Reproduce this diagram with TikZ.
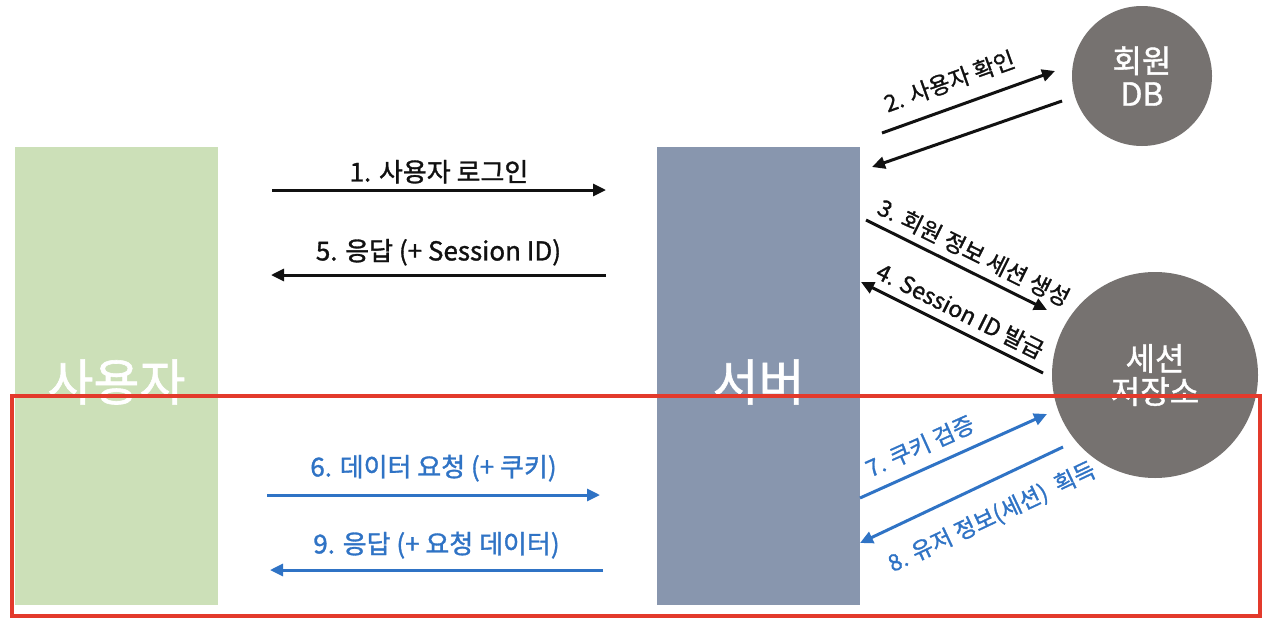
\documentclass[tikz,border=0pt]{standalone}
\usepackage{fontspec}
\setmainfont{Noto Sans CJK KR}
\newfontfamily\lblfont[FakeBold=1.2]{Noto Sans CJK KR}
\usetikzlibrary{arrows.meta}
\definecolor{usergreen}{HTML}{CCE0B8}
\definecolor{serverblue}{HTML}{8896AE}
\definecolor{circgray}{HTML}{767270}
\definecolor{flowblue}{HTML}{2F73C5}
\definecolor{redbox}{HTML}{E33A2C}
\definecolor{inkblack}{HTML}{111111}
\begin{document}
\begin{tikzpicture}[x=1pt,y=-1pt,
  actor/.style={rectangle, minimum width=203pt, minimum height=458pt, inner sep=0pt},
  bigtext/.style={text=white, font=\lblfont\fontsize{50}{56}\selectfont},
  store/.style={circle, fill=circgray, inner sep=0pt, text=white, align=center,
    font=\lblfont\fontsize{32}{38}\selectfont},
  blackflow/.style={draw=inkblack, line width=3pt, -{Triangle[length=13pt,width=12pt]}},
  blueflow/.style={draw=flowblue, line width=3pt, -{Triangle[length=13pt,width=12pt]}},
  hlabel/.style={font=\lblfont\fontsize{26}{30}\selectfont, inner sep=1pt},
  slabel/.style={font=\lblfont\fontsize{23}{26}\selectfont, inner sep=1pt, sloped},
]
\useasboundingbox (0,0) rectangle (1280,640);
\fill[white] (0,0) rectangle (1280,640);

% actors
\node[actor, fill=usergreen] (user) at (116.5,376) {};
\node[actor, fill=serverblue] (server) at (758.5,376) {};
\node[bigtext] (usertxt) at (116.5,382) {사용자};
\node[bigtext] (servertxt) at (758.5,382) {서버};

% stores
\node[store, minimum size=140pt] (db) at (1142,76) {회원\\[-5pt]DB};
\node[store, minimum size=206pt] (sess) at (1155,375) {세션\\[-5pt]저장소};

% endpoints
\coordinate (p1s) at (272,190);  \coordinate (p1e) at (606,190);
\coordinate (p5s) at (606,275);  \coordinate (p5e) at (271,275);
\coordinate (p6s) at (267,495);  \coordinate (p6e) at (600,495);
\coordinate (p9s) at (603,570);  \coordinate (p9e) at (270,570);
\coordinate (p2s) at (882,133);  \coordinate (p2e) at (1055,71);
\coordinate (p2bs) at (1062,101); \coordinate (p2be) at (872,167);
\coordinate (p3s) at (866,220);  \coordinate (p3e) at (1047,310);
\coordinate (p4s) at (1043,373); \coordinate (p4e) at (861,282);
\coordinate (p7s) at (860,498);  \coordinate (p7e) at (1047,414);
\coordinate (p8s) at (1063,447); \coordinate (p8e) at (860,543);

% flows
\draw[blackflow] (p1s) -- node[hlabel, text=inkblack, above=4pt] {1. 사용자 로그인} (p1e);
\draw[blackflow] (p5s) -- node[hlabel, text=inkblack, above=7pt] {5. 응답 (+ Session ID)} (p5e);
\draw[blueflow] (p6s) -- node[hlabel, text=flowblue, above=11pt] {6. 데이터 요청 (+ 쿠키)} (p6e);
\draw[blueflow] (p9s) -- node[hlabel, text=flowblue, above=9pt] {9. 응답 (+ 요청 데이터)} (p9e);

\draw[blackflow] (p2s) -- node[slabel, text=inkblack, pos=0.44, above=13pt] {2. 사용자 확인} (p2e);
\draw[blackflow] (p2bs) -- (p2be);
\draw[blackflow] (p3s) -- node[slabel, text=inkblack, pos=0.55, above=6pt] {3. 회원\ 정보\ 세션\ 생성} (p3e);
\draw[blackflow] (p4s) -- node[slabel, text=inkblack, pos=0.5, above=6pt] {4. Session ID 발급} (p4e);
\draw[blueflow] (p7s) -- node[slabel, text=flowblue, pos=0.37, above=10pt] {7. 쿠키 검증} (p7e);
\draw[blueflow] (p8s) -- node[slabel, text=flowblue, pos=0.42, below=19pt] {8. 유저 정보(세션)\ \ 획득} (p8e);

% highlight frame
\draw[redbox, line width=4pt] (12,396) rectangle (1260,616);
\end{tikzpicture}
\end{document}
